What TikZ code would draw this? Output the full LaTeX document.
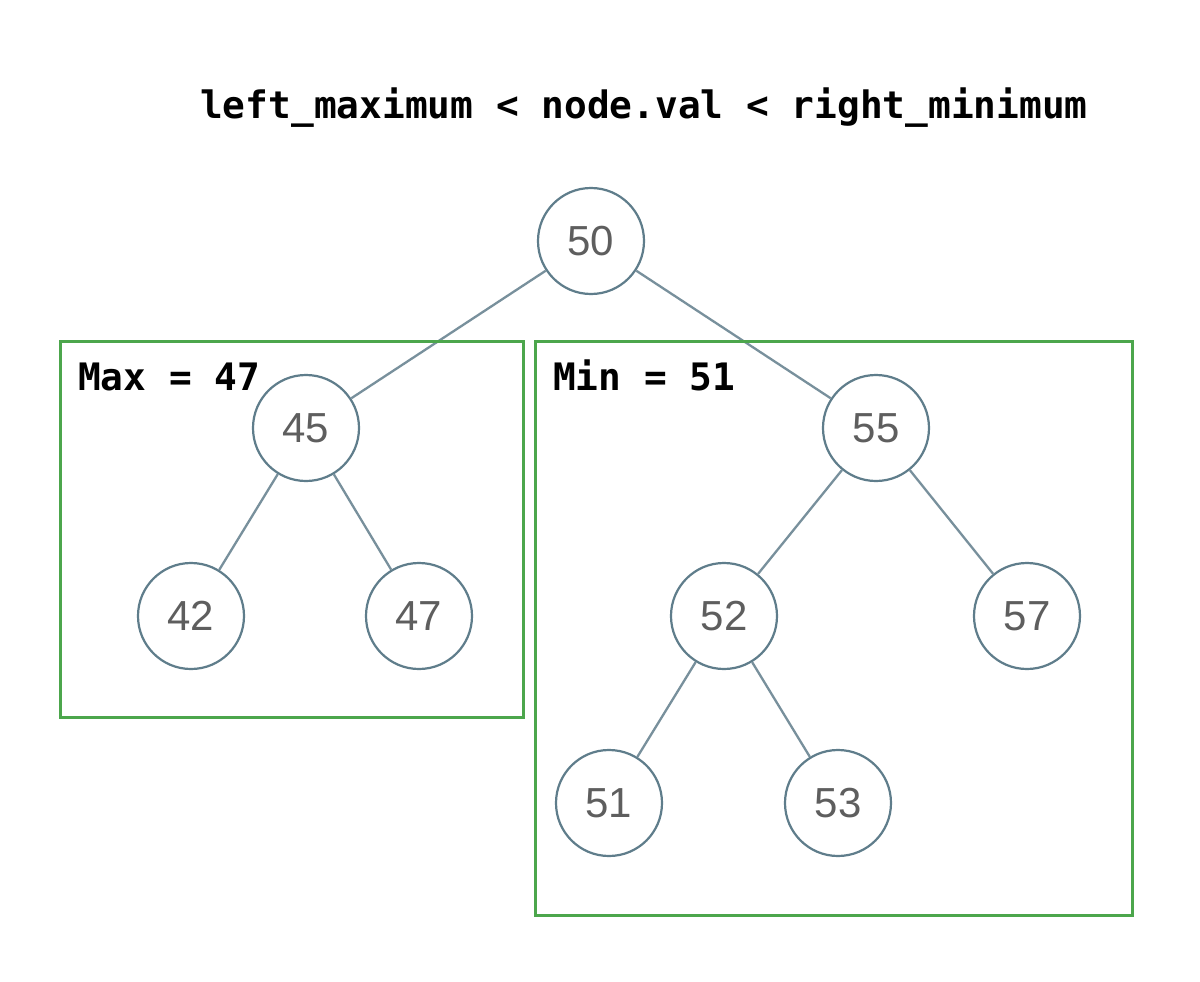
\documentclass[tikz,border=0pt]{standalone}
\usepackage{fontspec}
\setmainfont{Liberation Sans}
\newfontfamily\codefont{DejaVu Sans Mono}
\definecolor{edgec}{HTML}{78909C}
\definecolor{circc}{HTML}{5F7D8B}
\definecolor{numc}{HTML}{5E5E5E}
\definecolor{boxc}{HTML}{4CA64C}
\begin{document}
\begin{tikzpicture}[x=1pt,y=-1pt,
  tnode/.style={circle,draw=circc,line width=2.2pt,minimum size=106pt,inner sep=0pt,fill=white,
    font=\fontsize{42}{42}\selectfont,text=numc},
  tedge/.style={draw=edgec,line width=2.3pt},
  gbox/.style={draw=boxc,line width=3pt},
  code/.style={font=\codefont\bfseries\fontsize{37.8}{38}\selectfont,text=black,inner sep=0pt}]
\useasboundingbox (0,0) rectangle (1200,982);
\fill[white] (0,0) rectangle (1200,982);
\node[code,anchor=base] (title) at (644,118) {left\_maximum < node.val < right\_minimum};
\node[tnode] (n50) at (591,241) {50};
\node[tnode] (n45) at (306,428) {45};
\node[tnode] (n55) at (876,428) {55};
\node[tnode] (n42) at (191,616) {42};
\node[tnode] (n47) at (419,616) {47};
\node[tnode] (n52) at (724,616) {52};
\node[tnode] (n57) at (1027,616) {57};
\node[tnode] (n51) at (609,803) {51};
\node[tnode] (n53) at (838,803) {53};
\draw[tedge] (n50) -- (n45);
\draw[tedge] (n50) -- (n55);
\draw[tedge] (n45) -- (n42);
\draw[tedge] (n45) -- (n47);
\draw[tedge] (n55) -- (n52);
\draw[tedge] (n55) -- (n57);
\draw[tedge] (n52) -- (n51);
\draw[tedge] (n52) -- (n53);
\node[gbox,anchor=north west,minimum width=463pt,minimum height=376pt,inner sep=0pt] (lbox) at (59,340) {};
\node[gbox,anchor=north west,minimum width=597pt,minimum height=574pt,inner sep=0pt] (rbox) at (534,340) {};
\node[code,anchor=base west] (maxl) at (78,390) {Max = 47};
\node[code,anchor=base west] (minl) at (553,390) {Min = 51};
\end{tikzpicture}
\end{document}
